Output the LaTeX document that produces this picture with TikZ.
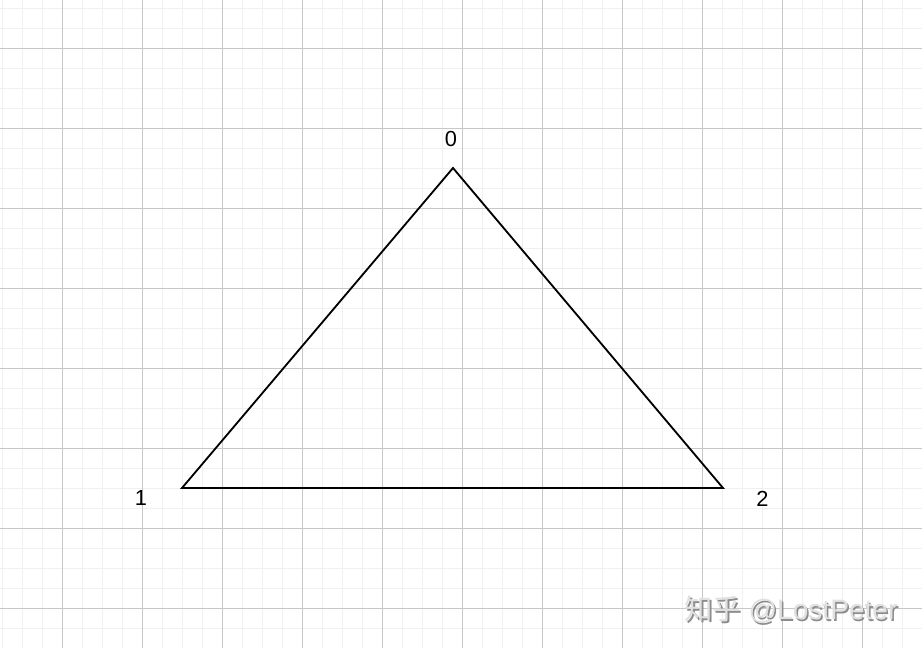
\documentclass[tikz,border=0pt]{standalone}
\usepackage{fontspec}
\setmainfont{Liberation Sans}
\newfontfamily\cjkfont{Noto Sans CJK SC}
\usetikzlibrary{positioning}

\tikzset{
  minorgrid/.style={black!6, line width=0.8pt},
  majorgrid/.style={black!22, line width=0.6pt},
  vlabel/.style={font=\fontsize{15.5}{18}\selectfont},
  wmark/.style={font=\fontsize{20}{24}\selectfont, inner sep=0pt}
}

\begin{document}
\begin{tikzpicture}[x=0.025cm, y=-0.025cm]
\useasboundingbox (0,0) rectangle (922,648);
\fill[white] (0,0) rectangle (922,648);
% grid
\foreach \gx in {2.3,22.3,...,922} \draw[minorgrid] (\gx,0) -- (\gx,648);
\foreach \gy in {8.3,28.3,...,648} \draw[minorgrid] (0,\gy) -- (922,\gy);
\foreach \gx in {62.3,142.3,...,922} \draw[majorgrid] (\gx,0) -- (\gx,648);
\foreach \gy in {48.3,128.3,...,648} \draw[majorgrid] (0,\gy) -- (922,\gy);
% triangle
\coordinate (v0) at (453,168);
\coordinate (v1) at (182,488);
\coordinate (v2) at (723,488);
\draw[black, line width=1.3pt, line join=miter] (v0) -- (v1) -- (v2) -- cycle;
\node[vlabel] (n0) at (451,139) {0};
\node[vlabel] (n1) at (141,498.5) {1};
\node[vlabel] (n2) at (762.5,498.5) {2};
% watermark
\node[wmark, black!45] (wmshadow) at (792.5,611.5) {{\cjkfont 知乎} @LostPeter};
\node[wmark, black!12] (wm) at (791,610) {{\cjkfont 知乎} @LostPeter};
\end{tikzpicture}
\end{document}
